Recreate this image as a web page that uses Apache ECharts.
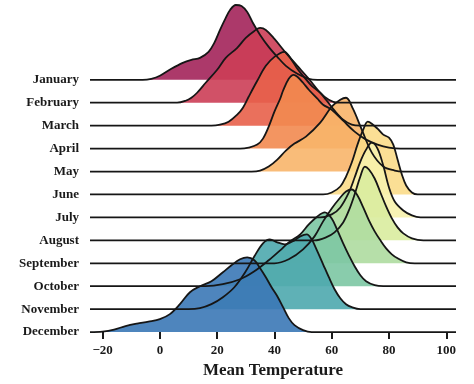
<!DOCTYPE html>
<html>
<head>
<meta charset="utf-8">
<script src="https://cdn.jsdelivr.net/npm/echarts@6/dist/echarts.min.js"></script>
<style>
  html, body { margin: 0; padding: 0; background: #ffffff; }
  #chart { width: 474px; height: 384px; }
</style>
</head>
<body>
<div id="chart"></div>
<script>
// ---- data (temperature, relative density height) ----
const months = ['January', 'February', 'March', 'April', 'May', 'June',
                'July', 'August', 'September', 'October', 'November', 'December'];
const xTicks = [-20, 0, 20, 40, 60, 80, 100];
const tempRange = [-24.4, 103.4];

const january = [[-6,0],[-3,1],[0,4],[4,11],[8,17],[11,20],[14,22],[17,28],[19,37],[21,50],[23,62],[24.5,70],[26.5,75],[28.5,74],[30.5,68],[32.5,57],[35,45],[38,33],[41,23],[44,14],[48,6],[52,1],[55,0]];
const february = [[6,0],[9,2],[11,5],[13,10],[16,20],[20,33],[23,45],[27,55],[30,65],[33,72],[35,75],[37,73],[40,64],[44,50],[48,37],[52,24],[56,10],[59,3],[62,0]];
const march = [[18,0],[21,1],[24,4],[27,11],[29,18],[31,29],[34,45],[37,60],[40,69],[43.5,74],[46,66],[48,57],[50,50],[53,40],[56,33],[58,26],[61,15],[64,6],[67,1],[70,0]];
const april = [[28,0],[31,1],[34,4],[36,10],[38,22],[40,37],[42,50],[43,58],[45,70],[46.7,74],[48,72],[50,66],[52,59],[55,50],[57,44],[60,39],[64,28],[68,17],[72,9],[76,4],[80,1],[84,0]];
const may = [[32,0],[35,1],[38,5],[41,12],[44,21],[47,28],[51,35],[56,49],[60,65],[63,72],[65,74],[67.4,63],[70.5,42],[74,19],[78,5],[82,1],[85,0]];
const june = [[57,0],[60,2],[63,8],[65,18],[67,32],[69,50],[71,65],[72.6,73],[74,71],[76,66],[78,60],[80,57],[81.5,50],[83,35],[84.5,20],[86,9],[88,2],[90,0]];
const july = [[56,0],[60,3],[63,10],[66,25],[68,40],[70,56],[72,68],[74,75],[76,69],[78,52],[80,30],[82,16],[85,7],[88,2],[91,0]];
const august = [[54,0],[58,3],[61,8],[64,18],[66,30],[68,46],[70,64],[71.6,74],[73,71],[75,62],[77,48],[79,34],[81,22],[83,13],[85,7],[88,2],[92,0]];
const september = [[40,0],[45,4],[50,14],[54,27],[57,42],[60,55],[63,66],[65,72],[67,74],[69,68],[71,56],[73,43],[75,32],[77,23],[79,15],[81,9],[83,5],[86,1],[89,0]];
const october = [[16,0],[22,2],[28,7],[33,15],[38,26],[42,36],[45,44],[49,52],[52,62],[55,70],[57.6,74],[60,68],[62,56],[64,43],[66,31],[68,20],[70,11],[72,5],[75,1],[78,0]];
const november = [[10,0],[14,1],[18,5],[22,12],[26,22],[30,38],[33,53],[36,66],[38.4,70],[41,67],[43.6,65],[47,69],[49,73],[51.3,75],[53,70],[55,58],[57,45],[59,32],[61,20],[63,11],[65,5],[67,2],[70,0]];
const december = [[-20,0.5],[-16,2.5],[-12,6],[-8,8.5],[-4,10.5],[0,13],[3.5,18],[7,28],[10.5,40],[14,46],[18,51],[22,60],[25,67],[28,73],[30.5,75],[33,72],[35,64],[37,55],[39,45],[41,36],[43,25],[45,14],[47,7],[50,2],[53,0]];

const monthData = [january, february, march, april, may, june, july, august, september, october, november, december];
const fillColors = ['#a3245a', '#cc3e56', '#e8604a', '#f28a50', '#f8b56a', '#fbdc8a',
                    '#f7f2ad', '#d9ec9f', '#aedba0', '#7cc6a3', '#4ea8ae', '#3b78b6'];

// ---- layout ----
const ROW = 23;          // spacing between ridge baselines (y units)
const serif = "'Liberation Serif', 'Times New Roman', 'DejaVu Serif', serif";
const n = months.length;

const series = monthData.map((pts, i) => {
  const base = (n - 1 - i) * ROW;
  const data = [[tempRange[0], base]]
    .concat(pts.map(p => [p[0], base + p[1]]))
    .concat([[tempRange[1], base]]);
  return {
    name: months[i],
    type: 'line',
    data: data,
    smooth: 0.35,
    symbol: 'none',
    silent: true,
    lineStyle: { color: '#161616', width: 1.8 },
    areaStyle: { color: fillColors[i], opacity: 0.9, origin: base }
  };
});

const chart = echarts.init(document.getElementById('chart'), null, { renderer: 'canvas' });
chart.setOption({
  animation: false,
  backgroundColor: '#ffffff',
  grid: { left: 90, right: 18, top: 0, bottom: 51 },
  xAxis: {
    type: 'value',
    min: tempRange[0],
    max: tempRange[1],
    offset: 4,
    axisLine: { show: false },
    splitLine: { show: false },
    axisTick: { show: true, customValues: xTicks, length: 7, lineStyle: { color: '#1a1a1a', width: 2 } },
    axisLabel: {
      customValues: xTicks,
      margin: 8,
      color: '#1a1a1a',
      fontFamily: serif,
      fontWeight: 'bold',
      fontSize: 13,
      formatter: v => (v < 0 ? '\u2212' + Math.abs(v) : String(v))
    },
    name: 'Mean Temperature',
    nameLocation: 'middle',
    nameGap: 23,
    nameTextStyle: { color: '#1a1a1a', fontFamily: serif, fontWeight: 'bold', fontSize: 17 }
  },
  yAxis: {
    type: 'value',
    min: 0,
    max: 333,
    axisLine: { show: false },
    axisTick: { show: false },
    splitLine: { show: false },
    axisLabel: {
      customValues: months.map((m, i) => (n - 1 - i) * ROW),
      margin: 11,
      color: '#1a1a1a',
      fontFamily: serif,
      fontWeight: 'bold',
      fontSize: 13,
      formatter: v => months[n - 1 - Math.round(v / ROW)]
    }
  },
  series: series
});
</script>
</body>
</html>
